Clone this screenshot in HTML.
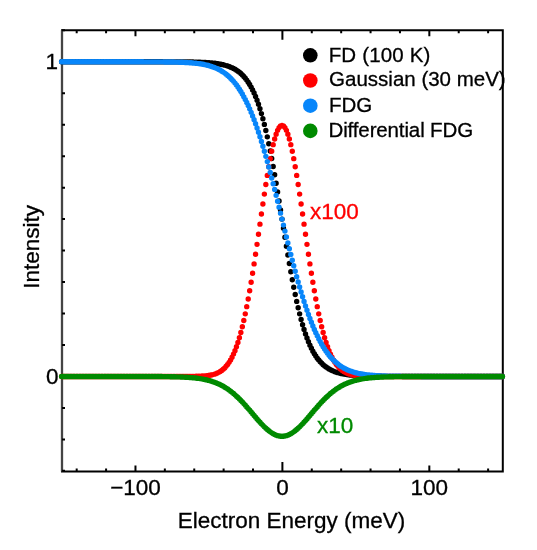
<!DOCTYPE html>
<html><head><meta charset="utf-8"><title>FD FDG plot</title>
<style>html,body{margin:0;padding:0;background:#fff;width:537px;height:550px;overflow:hidden}</style>
</head><body>
<svg width="537" height="550" viewBox="0 0 537 550" style="position:absolute;left:0;top:0">
<rect x="0" y="0" width="537" height="550" fill="#fff"/>
<path d="M61.00 30.30H503.80M61.00 471.50H503.80M502.80 30.30V471.50" stroke="#000" stroke-width="2" fill="none"/>
<path d="M62.00 30.30V471.50" stroke="#444" stroke-width="2.3" fill="none"/>
<path d="M76.69 471.50v-3M76.69 30.30v3M106.08 471.50v-3M106.08 30.30v3M135.47 471.50v-3M135.47 30.30v3M164.85 471.50v-3M164.85 30.30v3M194.24 471.50v-3M194.24 30.30v3M223.63 471.50v-3M223.63 30.30v3M253.01 471.50v-3M253.01 30.30v3M282.40 471.50v-3M282.40 30.30v3M311.79 471.50v-3M311.79 30.30v3M341.17 471.50v-3M341.17 30.30v3M370.56 471.50v-3M370.56 30.30v3M399.95 471.50v-3M399.95 30.30v3M429.33 471.50v-3M429.33 30.30v3M458.72 471.50v-3M458.72 30.30v3M488.11 471.50v-3M488.11 30.30v3M135.47 471.50v-6.1M135.47 30.30v5.9M282.40 471.50v-9.6M282.40 30.30v9.4M429.33 471.50v-6.1M429.33 30.30v5.9M62.00 470.84h3M62.00 439.38h3M62.00 407.91h3M62.00 376.45h3M62.00 344.99h3M62.00 313.52h3M62.00 282.06h3M62.00 250.59h3M62.00 219.12h3M62.00 187.66h3M62.00 156.20h3M62.00 124.73h3M62.00 93.26h3M62.00 61.80h3M62.00 30.33h3M62.00 376.45h9.5M62.00 61.80h9.5" stroke="#000" stroke-width="2" fill="none"/>
<path d="M61.60 61.80h0M63.07 61.80h0M64.54 61.80h0M66.01 61.80h0M67.48 61.80h0M68.95 61.80h0M70.42 61.80h0M71.89 61.80h0M73.35 61.80h0M74.82 61.80h0M76.29 61.80h0M77.76 61.80h0M79.23 61.80h0M80.70 61.80h0M82.17 61.80h0M83.64 61.80h0M85.11 61.80h0M86.58 61.80h0M88.05 61.80h0M89.52 61.80h0M90.99 61.80h0M92.46 61.80h0M93.93 61.80h0M95.39 61.80h0M96.86 61.80h0M98.33 61.80h0M99.80 61.80h0M101.27 61.80h0M102.74 61.80h0M104.21 61.80h0M105.68 61.80h0M107.15 61.80h0M108.62 61.80h0M110.09 61.80h0M111.56 61.80h0M113.03 61.80h0M114.50 61.80h0M115.97 61.80h0M117.43 61.80h0M118.90 61.80h0M120.37 61.80h0M121.84 61.80h0M123.31 61.80h0M124.78 61.80h0M126.25 61.80h0M127.72 61.80h0M129.19 61.80h0M130.66 61.80h0M132.13 61.80h0M133.60 61.80h0M135.07 61.80h0M136.54 61.80h0M138.01 61.80h0M139.47 61.80h0M140.94 61.80h0M142.41 61.81h0M143.88 61.81h0M145.35 61.81h0M146.82 61.81h0M148.29 61.81h0M149.76 61.81h0M151.23 61.81h0M152.70 61.81h0M154.17 61.81h0M155.64 61.81h0M157.11 61.82h0M158.58 61.82h0M160.05 61.82h0M161.51 61.82h0M162.98 61.83h0M164.45 61.83h0M165.92 61.83h0M167.39 61.84h0M168.86 61.84h0M170.33 61.85h0M171.80 61.85h0M173.27 61.86h0M174.74 61.87h0M176.21 61.87h0M177.68 61.88h0M179.15 61.89h0M180.62 61.90h0M182.09 61.92h0M183.55 61.93h0M185.02 61.95h0M186.49 61.97h0M187.96 61.99h0M189.43 62.01h0M190.90 62.04h0M192.37 62.06h0M193.84 62.10h0M195.31 62.13h0M196.78 62.18h0M198.25 62.22h0M199.72 62.27h0M201.19 62.33h0M202.66 62.40h0M204.13 62.47h0M205.59 62.55h0M207.06 62.64h0M208.53 62.75h0M210.00 62.86h0M211.47 62.99h0M212.94 63.14h0M214.41 63.30h0M215.88 63.49h0M217.35 63.70h0M218.82 63.93h0M220.29 64.19h0M221.76 64.48h0M223.23 64.80h0M224.70 65.17h0M226.17 65.58h0M227.63 66.04h0M229.10 66.55h0M230.57 67.13h0M232.04 67.77h0M233.51 68.49h0M234.98 69.29h0M236.45 70.19h0M237.92 71.19h0M239.39 72.31h0M240.86 73.55h0M242.33 74.94h0M243.80 76.48h0M245.27 78.19h0M246.74 80.09h0M248.21 82.20h0M249.67 84.53h0M251.14 87.10h0M252.61 89.93h0M254.08 93.05h0M255.55 96.47h0M257.02 100.22h0M258.49 104.30h0M259.96 108.75h0M261.43 113.58h0M262.90 118.80h0M264.37 124.42h0M265.84 130.44h0M267.31 136.87h0M268.78 143.70h0M270.25 150.93h0M271.71 158.52h0M273.18 166.47h0M274.65 174.72h0M276.12 183.25h0M277.59 192.01h0M279.06 200.95h0M280.53 210.01h0M282.00 219.12h0M283.47 228.24h0M284.94 237.30h0M286.41 246.24h0M287.88 255.00h0M289.35 263.53h0M290.82 271.78h0M292.29 279.73h0M293.75 287.32h0M295.22 294.55h0M296.69 301.38h0M298.16 307.81h0M299.63 313.83h0M301.10 319.45h0M302.57 324.67h0M304.04 329.50h0M305.51 333.95h0M306.98 338.03h0M308.45 341.78h0M309.92 345.20h0M311.39 348.32h0M312.86 351.15h0M314.33 353.72h0M315.79 356.05h0M317.26 358.16h0M318.73 360.06h0M320.20 361.77h0M321.67 363.31h0M323.14 364.70h0M324.61 365.94h0M326.08 367.06h0M327.55 368.06h0M329.02 368.96h0M330.49 369.76h0M331.96 370.48h0M333.43 371.12h0M334.90 371.70h0M336.37 372.21h0M337.83 372.67h0M339.30 373.08h0M340.77 373.45h0M342.24 373.77h0M343.71 374.06h0M345.18 374.32h0M346.65 374.55h0M348.12 374.76h0M349.59 374.95h0M351.06 375.11h0M352.53 375.26h0M354.00 375.39h0M355.47 375.50h0M356.94 375.61h0M358.41 375.70h0M359.87 375.78h0M361.34 375.85h0M362.81 375.92h0M364.28 375.98h0M365.75 376.03h0M367.22 376.07h0M368.69 376.12h0M370.16 376.15h0M371.63 376.19h0M373.10 376.21h0M374.57 376.24h0M376.04 376.26h0M377.51 376.28h0M378.98 376.30h0M380.45 376.32h0M381.91 376.33h0M383.38 376.35h0M384.85 376.36h0M386.32 376.37h0M387.79 376.38h0M389.26 376.38h0M390.73 376.39h0M392.20 376.40h0M393.67 376.40h0M395.14 376.41h0M396.61 376.41h0M398.08 376.42h0M399.55 376.42h0M401.02 376.42h0M402.49 376.43h0M403.95 376.43h0M405.42 376.43h0M406.89 376.43h0M408.36 376.44h0M409.83 376.44h0M411.30 376.44h0M412.77 376.44h0M414.24 376.44h0M415.71 376.44h0M417.18 376.44h0M418.65 376.44h0M420.12 376.44h0M421.59 376.44h0M423.06 376.45h0M424.53 376.45h0M425.99 376.45h0M427.46 376.45h0M428.93 376.45h0M430.40 376.45h0M431.87 376.45h0M433.34 376.45h0M434.81 376.45h0M436.28 376.45h0M437.75 376.45h0M439.22 376.45h0M440.69 376.45h0M442.16 376.45h0M443.63 376.45h0M445.10 376.45h0M446.57 376.45h0M448.03 376.45h0M449.50 376.45h0M450.97 376.45h0M452.44 376.45h0M453.91 376.45h0M455.38 376.45h0M456.85 376.45h0M458.32 376.45h0M459.79 376.45h0M461.26 376.45h0M462.73 376.45h0M464.20 376.45h0M465.67 376.45h0M467.14 376.45h0M468.61 376.45h0M470.07 376.45h0M471.54 376.45h0M473.01 376.45h0M474.48 376.45h0M475.95 376.45h0M477.42 376.45h0M478.89 376.45h0M480.36 376.45h0M481.83 376.45h0M483.30 376.45h0M484.77 376.45h0M486.24 376.45h0M487.71 376.45h0M489.18 376.45h0M490.65 376.45h0M492.11 376.45h0M493.58 376.45h0M495.05 376.45h0M496.52 376.45h0M497.99 376.45h0M499.46 376.45h0M500.93 376.45h0M502.40 376.45h0" stroke="#000" stroke-width="5.4" stroke-linecap="round" fill="none"/>
<path d="M61.60 376.45h0M63.07 376.45h0M64.54 376.45h0M66.01 376.45h0M67.48 376.45h0M68.95 376.45h0M70.42 376.45h0M71.89 376.45h0M73.35 376.45h0M74.82 376.45h0M76.29 376.45h0M77.76 376.45h0M79.23 376.45h0M80.70 376.45h0M82.17 376.45h0M83.64 376.45h0M85.11 376.45h0M86.58 376.45h0M88.05 376.45h0M89.52 376.45h0M90.99 376.45h0M92.46 376.45h0M93.93 376.45h0M95.39 376.45h0M96.86 376.45h0M98.33 376.45h0M99.80 376.45h0M101.27 376.45h0M102.74 376.45h0M104.21 376.45h0M105.68 376.45h0M107.15 376.45h0M108.62 376.45h0M110.09 376.45h0M111.56 376.45h0M113.03 376.45h0M114.50 376.45h0M115.97 376.45h0M117.43 376.45h0M118.90 376.45h0M120.37 376.45h0M121.84 376.45h0M123.31 376.45h0M124.78 376.45h0M126.25 376.45h0M127.72 376.45h0M129.19 376.45h0M130.66 376.45h0M132.13 376.45h0M133.60 376.45h0M135.07 376.45h0M136.54 376.45h0M138.01 376.45h0M139.47 376.45h0M140.94 376.45h0M142.41 376.45h0M143.88 376.45h0M145.35 376.45h0M146.82 376.45h0M148.29 376.45h0M149.76 376.45h0M151.23 376.45h0M152.70 376.45h0M154.17 376.45h0M155.64 376.45h0M157.11 376.45h0M158.58 376.45h0M160.05 376.45h0M161.51 376.45h0M162.98 376.45h0M164.45 376.45h0M165.92 376.45h0M167.39 376.45h0M168.86 376.45h0M170.33 376.45h0M171.80 376.45h0M173.27 376.45h0M174.74 376.45h0M176.21 376.45h0M177.68 376.45h0M179.15 376.45h0M180.62 376.44h0M182.09 376.44h0M183.55 376.44h0M185.02 376.43h0M186.49 376.43h0M187.96 376.42h0M189.43 376.41h0M190.90 376.40h0M192.37 376.39h0M193.84 376.37h0M195.31 376.34h0M196.78 376.31h0M198.25 376.27h0M199.72 376.21h0M201.19 376.15h0M202.66 376.06h0M204.13 375.96h0M205.59 375.83h0M207.06 375.67h0M208.53 375.48h0M210.00 375.24h0M211.47 374.95h0M212.94 374.60h0M214.41 374.17h0M215.88 373.66h0M217.35 373.05h0M218.82 372.33h0M220.29 371.47h0M221.76 370.46h0M223.23 369.28h0M224.70 367.90h0M226.17 366.31h0M227.63 364.47h0M229.10 362.36h0M230.57 359.95h0M232.04 357.21h0M233.51 354.12h0M234.98 350.65h0M236.45 346.78h0M237.92 342.47h0M239.39 337.71h0M240.86 332.48h0M242.33 326.76h0M243.80 320.55h0M245.27 313.84h0M246.74 306.64h0M248.21 298.95h0M249.67 290.80h0M251.14 282.21h0M252.61 273.22h0M254.08 263.88h0M255.55 254.23h0M257.02 244.35h0M258.49 234.29h0M259.96 224.16h0M261.43 214.02h0M262.90 203.97h0M264.37 194.12h0M265.84 184.56h0M267.31 175.39h0M268.78 166.72h0M270.25 158.65h0M271.71 151.26h0M273.18 144.66h0M274.65 138.93h0M276.12 134.13h0M277.59 130.33h0M279.06 127.58h0M280.53 125.92h0M282.00 125.36h0M283.47 125.92h0M284.94 127.58h0M286.41 130.33h0M287.88 134.13h0M289.35 138.93h0M290.82 144.66h0M292.29 151.26h0M293.75 158.65h0M295.22 166.72h0M296.69 175.39h0M298.16 184.56h0M299.63 194.12h0M301.10 203.97h0M302.57 214.02h0M304.04 224.16h0M305.51 234.29h0M306.98 244.35h0M308.45 254.23h0M309.92 263.88h0M311.39 273.22h0M312.86 282.21h0M314.33 290.80h0M315.79 298.95h0M317.26 306.64h0M318.73 313.84h0M320.20 320.55h0M321.67 326.76h0M323.14 332.48h0M324.61 337.71h0M326.08 342.47h0M327.55 346.78h0M329.02 350.65h0M330.49 354.12h0M331.96 357.21h0M333.43 359.95h0M334.90 362.36h0M336.37 364.47h0M337.83 366.31h0M339.30 367.90h0M340.77 369.28h0M342.24 370.46h0M343.71 371.47h0M345.18 372.33h0M346.65 373.05h0M348.12 373.66h0M349.59 374.17h0M351.06 374.60h0M352.53 374.95h0M354.00 375.24h0M355.47 375.48h0M356.94 375.67h0M358.41 375.83h0M359.87 375.96h0M361.34 376.06h0M362.81 376.15h0M364.28 376.21h0M365.75 376.27h0M367.22 376.31h0M368.69 376.34h0M370.16 376.37h0M371.63 376.39h0M373.10 376.40h0M374.57 376.41h0M376.04 376.42h0M377.51 376.43h0M378.98 376.43h0M380.45 376.44h0M381.91 376.44h0M383.38 376.44h0M384.85 376.45h0M386.32 376.45h0M387.79 376.45h0M389.26 376.45h0M390.73 376.45h0M392.20 376.45h0M393.67 376.45h0M395.14 376.45h0M396.61 376.45h0M398.08 376.45h0M399.55 376.45h0M401.02 376.45h0M402.49 376.45h0M403.95 376.45h0M405.42 376.45h0M406.89 376.45h0M408.36 376.45h0M409.83 376.45h0M411.30 376.45h0M412.77 376.45h0M414.24 376.45h0M415.71 376.45h0M417.18 376.45h0M418.65 376.45h0M420.12 376.45h0M421.59 376.45h0M423.06 376.45h0M424.53 376.45h0M425.99 376.45h0M427.46 376.45h0M428.93 376.45h0M430.40 376.45h0M431.87 376.45h0M433.34 376.45h0M434.81 376.45h0M436.28 376.45h0M437.75 376.45h0M439.22 376.45h0M440.69 376.45h0M442.16 376.45h0M443.63 376.45h0M445.10 376.45h0M446.57 376.45h0M448.03 376.45h0M449.50 376.45h0M450.97 376.45h0M452.44 376.45h0M453.91 376.45h0M455.38 376.45h0M456.85 376.45h0M458.32 376.45h0M459.79 376.45h0M461.26 376.45h0M462.73 376.45h0M464.20 376.45h0M465.67 376.45h0M467.14 376.45h0M468.61 376.45h0M470.07 376.45h0M471.54 376.45h0M473.01 376.45h0M474.48 376.45h0M475.95 376.45h0M477.42 376.45h0M478.89 376.45h0M480.36 376.45h0M481.83 376.45h0M483.30 376.45h0M484.77 376.45h0M486.24 376.45h0M487.71 376.45h0M489.18 376.45h0M490.65 376.45h0M492.11 376.45h0M493.58 376.45h0M495.05 376.45h0M496.52 376.45h0M497.99 376.45h0M499.46 376.45h0M500.93 376.45h0M502.40 376.45h0" stroke="#ff0000" stroke-width="5.4" stroke-linecap="round" fill="none"/>
<path d="M61.60 61.80h0M63.07 61.80h0M64.54 61.80h0M66.01 61.80h0M67.48 61.80h0M68.95 61.80h0M70.42 61.80h0M71.89 61.80h0M73.35 61.80h0M74.82 61.80h0M76.29 61.80h0M77.76 61.80h0M79.23 61.80h0M80.70 61.80h0M82.17 61.80h0M83.64 61.80h0M85.11 61.80h0M86.58 61.80h0M88.05 61.80h0M89.52 61.80h0M90.99 61.80h0M92.46 61.80h0M93.93 61.80h0M95.39 61.80h0M96.86 61.80h0M98.33 61.80h0M99.80 61.80h0M101.27 61.80h0M102.74 61.80h0M104.21 61.80h0M105.68 61.80h0M107.15 61.80h0M108.62 61.80h0M110.09 61.80h0M111.56 61.80h0M113.03 61.80h0M114.50 61.80h0M115.97 61.80h0M117.43 61.80h0M118.90 61.80h0M120.37 61.80h0M121.84 61.80h0M123.31 61.81h0M124.78 61.81h0M126.25 61.81h0M127.72 61.81h0M129.19 61.81h0M130.66 61.81h0M132.13 61.81h0M133.60 61.81h0M135.07 61.81h0M136.54 61.81h0M138.01 61.82h0M139.47 61.82h0M140.94 61.82h0M142.41 61.82h0M143.88 61.83h0M145.35 61.83h0M146.82 61.83h0M148.29 61.84h0M149.76 61.84h0M151.23 61.85h0M152.70 61.85h0M154.17 61.86h0M155.64 61.87h0M157.11 61.87h0M158.58 61.88h0M160.05 61.89h0M161.51 61.90h0M162.98 61.92h0M164.45 61.93h0M165.92 61.95h0M167.39 61.97h0M168.86 61.99h0M170.33 62.01h0M171.80 62.03h0M173.27 62.06h0M174.74 62.09h0M176.21 62.13h0M177.68 62.17h0M179.15 62.22h0M180.62 62.27h0M182.09 62.32h0M183.55 62.38h0M185.02 62.45h0M186.49 62.53h0M187.96 62.62h0M189.43 62.71h0M190.90 62.82h0M192.37 62.94h0M193.84 63.08h0M195.31 63.23h0M196.78 63.39h0M198.25 63.58h0M199.72 63.78h0M201.19 64.01h0M202.66 64.26h0M204.13 64.54h0M205.59 64.85h0M207.06 65.19h0M208.53 65.56h0M210.00 65.98h0M211.47 66.43h0M212.94 66.93h0M214.41 67.48h0M215.88 68.09h0M217.35 68.75h0M218.82 69.48h0M220.29 70.27h0M221.76 71.14h0M223.23 72.08h0M224.70 73.11h0M226.17 74.23h0M227.63 75.44h0M229.10 76.75h0M230.57 78.17h0M232.04 79.70h0M233.51 81.34h0M234.98 83.12h0M236.45 85.02h0M237.92 87.06h0M239.39 89.24h0M240.86 91.57h0M242.33 94.04h0M243.80 96.68h0M245.27 99.48h0M246.74 102.44h0M248.21 105.57h0M249.67 108.86h0M251.14 112.34h0M252.61 115.98h0M254.08 119.80h0M255.55 123.79h0M257.02 127.95h0M258.49 132.28h0M259.96 136.78h0M261.43 141.44h0M262.90 146.26h0M264.37 151.23h0M265.84 156.34h0M267.31 161.58h0M268.78 166.95h0M270.25 172.44h0M271.71 178.04h0M273.18 183.73h0M274.65 189.50h0M276.12 195.34h0M277.59 201.24h0M279.06 207.17h0M280.53 213.14h0M282.00 219.12h0M283.47 225.11h0M284.94 231.08h0M286.41 237.01h0M287.88 242.91h0M289.35 248.75h0M290.82 254.52h0M292.29 260.21h0M293.75 265.81h0M295.22 271.30h0M296.69 276.67h0M298.16 281.91h0M299.63 287.02h0M301.10 291.99h0M302.57 296.81h0M304.04 301.47h0M305.51 305.97h0M306.98 310.30h0M308.45 314.46h0M309.92 318.45h0M311.39 322.27h0M312.86 325.91h0M314.33 329.39h0M315.79 332.68h0M317.26 335.81h0M318.73 338.77h0M320.20 341.57h0M321.67 344.21h0M323.14 346.68h0M324.61 349.01h0M326.08 351.19h0M327.55 353.23h0M329.02 355.13h0M330.49 356.91h0M331.96 358.55h0M333.43 360.08h0M334.90 361.50h0M336.37 362.81h0M337.83 364.02h0M339.30 365.14h0M340.77 366.17h0M342.24 367.11h0M343.71 367.98h0M345.18 368.77h0M346.65 369.50h0M348.12 370.16h0M349.59 370.77h0M351.06 371.32h0M352.53 371.82h0M354.00 372.27h0M355.47 372.69h0M356.94 373.06h0M358.41 373.40h0M359.87 373.71h0M361.34 373.99h0M362.81 374.24h0M364.28 374.47h0M365.75 374.67h0M367.22 374.86h0M368.69 375.02h0M370.16 375.17h0M371.63 375.31h0M373.10 375.43h0M374.57 375.54h0M376.04 375.63h0M377.51 375.72h0M378.98 375.80h0M380.45 375.87h0M381.91 375.93h0M383.38 375.98h0M384.85 376.03h0M386.32 376.08h0M387.79 376.12h0M389.26 376.16h0M390.73 376.19h0M392.20 376.22h0M393.67 376.24h0M395.14 376.26h0M396.61 376.28h0M398.08 376.30h0M399.55 376.32h0M401.02 376.33h0M402.49 376.35h0M403.95 376.36h0M405.42 376.37h0M406.89 376.38h0M408.36 376.38h0M409.83 376.39h0M411.30 376.40h0M412.77 376.40h0M414.24 376.41h0M415.71 376.41h0M417.18 376.42h0M418.65 376.42h0M420.12 376.42h0M421.59 376.43h0M423.06 376.43h0M424.53 376.43h0M425.99 376.43h0M427.46 376.44h0M428.93 376.44h0M430.40 376.44h0M431.87 376.44h0M433.34 376.44h0M434.81 376.44h0M436.28 376.44h0M437.75 376.44h0M439.22 376.44h0M440.69 376.44h0M442.16 376.45h0M443.63 376.45h0M445.10 376.45h0M446.57 376.45h0M448.03 376.45h0M449.50 376.45h0M450.97 376.45h0M452.44 376.45h0M453.91 376.45h0M455.38 376.45h0M456.85 376.45h0M458.32 376.45h0M459.79 376.45h0M461.26 376.45h0M462.73 376.45h0M464.20 376.45h0M465.67 376.45h0M467.14 376.45h0M468.61 376.45h0M470.07 376.45h0M471.54 376.45h0M473.01 376.45h0M474.48 376.45h0M475.95 376.45h0M477.42 376.45h0M478.89 376.45h0M480.36 376.45h0M481.83 376.45h0M483.30 376.45h0M484.77 376.45h0M486.24 376.45h0M487.71 376.45h0M489.18 376.45h0M490.65 376.45h0M492.11 376.45h0M493.58 376.45h0M495.05 376.45h0M496.52 376.45h0M497.99 376.45h0M499.46 376.45h0M500.93 376.45h0M502.40 376.45h0" stroke="#0886fa" stroke-width="5.4" stroke-linecap="round" fill="none"/>
<path d="M61.60 376.45h0M63.07 376.45h0M64.54 376.45h0M66.01 376.45h0M67.48 376.45h0M68.95 376.45h0M70.42 376.45h0M71.89 376.45h0M73.35 376.45h0M74.82 376.45h0M76.29 376.45h0M77.76 376.45h0M79.23 376.45h0M80.70 376.45h0M82.17 376.45h0M83.64 376.45h0M85.11 376.45h0M86.58 376.45h0M88.05 376.45h0M89.52 376.45h0M90.99 376.45h0M92.46 376.45h0M93.93 376.45h0M95.39 376.45h0M96.86 376.45h0M98.33 376.45h0M99.80 376.45h0M101.27 376.45h0M102.74 376.45h0M104.21 376.45h0M105.68 376.45h0M107.15 376.45h0M108.62 376.45h0M110.09 376.45h0M111.56 376.45h0M113.03 376.45h0M114.50 376.45h0M115.97 376.45h0M117.43 376.45h0M118.90 376.45h0M120.37 376.45h0M121.84 376.46h0M123.31 376.46h0M124.78 376.46h0M126.25 376.46h0M127.72 376.46h0M129.19 376.46h0M130.66 376.46h0M132.13 376.46h0M133.60 376.46h0M135.07 376.47h0M136.54 376.47h0M138.01 376.47h0M139.47 376.47h0M140.94 376.47h0M142.41 376.48h0M143.88 376.48h0M145.35 376.48h0M146.82 376.49h0M148.29 376.49h0M149.76 376.50h0M151.23 376.50h0M152.70 376.51h0M154.17 376.52h0M155.64 376.53h0M157.11 376.54h0M158.58 376.55h0M160.05 376.56h0M161.51 376.57h0M162.98 376.59h0M164.45 376.60h0M165.92 376.62h0M167.39 376.64h0M168.86 376.66h0M170.33 376.69h0M171.80 376.72h0M173.27 376.75h0M174.74 376.79h0M176.21 376.83h0M177.68 376.87h0M179.15 376.92h0M180.62 376.98h0M182.09 377.04h0M183.55 377.11h0M185.02 377.19h0M186.49 377.27h0M187.96 377.37h0M189.43 377.47h0M190.90 377.59h0M192.37 377.72h0M193.84 377.87h0M195.31 378.02h0M196.78 378.20h0M198.25 378.39h0M199.72 378.61h0M201.19 378.84h0M202.66 379.10h0M204.13 379.38h0M205.59 379.69h0M207.06 380.03h0M208.53 380.40h0M210.00 380.80h0M211.47 381.24h0M212.94 381.72h0M214.41 382.23h0M215.88 382.79h0M217.35 383.40h0M218.82 384.05h0M220.29 384.75h0M221.76 385.50h0M223.23 386.31h0M224.70 387.17h0M226.17 388.08h0M227.63 389.06h0M229.10 390.09h0M230.57 391.19h0M232.04 392.34h0M233.51 393.55h0M234.98 394.83h0M236.45 396.16h0M237.92 397.54h0M239.39 398.99h0M240.86 400.48h0M242.33 402.02h0M243.80 403.61h0M245.27 405.24h0M246.74 406.90h0M248.21 408.59h0M249.67 410.30h0M251.14 412.03h0M252.61 413.76h0M254.08 415.49h0M255.55 417.22h0M257.02 418.92h0M258.49 420.60h0M259.96 422.24h0M261.43 423.83h0M262.90 425.37h0M264.37 426.84h0M265.84 428.23h0M267.31 429.54h0M268.78 430.76h0M270.25 431.87h0M271.71 432.87h0M273.18 433.75h0M274.65 434.51h0M276.12 435.14h0M277.59 435.63h0M279.06 435.99h0M280.53 436.20h0M282.00 436.27h0M283.47 436.20h0M284.94 435.99h0M286.41 435.63h0M287.88 435.14h0M289.35 434.51h0M290.82 433.75h0M292.29 432.87h0M293.75 431.87h0M295.22 430.76h0M296.69 429.54h0M298.16 428.23h0M299.63 426.84h0M301.10 425.37h0M302.57 423.83h0M304.04 422.24h0M305.51 420.60h0M306.98 418.92h0M308.45 417.22h0M309.92 415.49h0M311.39 413.76h0M312.86 412.03h0M314.33 410.30h0M315.79 408.59h0M317.26 406.90h0M318.73 405.24h0M320.20 403.61h0M321.67 402.02h0M323.14 400.48h0M324.61 398.99h0M326.08 397.54h0M327.55 396.16h0M329.02 394.83h0M330.49 393.55h0M331.96 392.34h0M333.43 391.19h0M334.90 390.09h0M336.37 389.06h0M337.83 388.08h0M339.30 387.17h0M340.77 386.31h0M342.24 385.50h0M343.71 384.75h0M345.18 384.05h0M346.65 383.40h0M348.12 382.79h0M349.59 382.23h0M351.06 381.72h0M352.53 381.24h0M354.00 380.80h0M355.47 380.40h0M356.94 380.03h0M358.41 379.69h0M359.87 379.38h0M361.34 379.10h0M362.81 378.84h0M364.28 378.61h0M365.75 378.39h0M367.22 378.20h0M368.69 378.02h0M370.16 377.87h0M371.63 377.72h0M373.10 377.59h0M374.57 377.47h0M376.04 377.37h0M377.51 377.27h0M378.98 377.19h0M380.45 377.11h0M381.91 377.04h0M383.38 376.98h0M384.85 376.92h0M386.32 376.87h0M387.79 376.83h0M389.26 376.79h0M390.73 376.75h0M392.20 376.72h0M393.67 376.69h0M395.14 376.66h0M396.61 376.64h0M398.08 376.62h0M399.55 376.60h0M401.02 376.59h0M402.49 376.57h0M403.95 376.56h0M405.42 376.55h0M406.89 376.54h0M408.36 376.53h0M409.83 376.52h0M411.30 376.51h0M412.77 376.50h0M414.24 376.50h0M415.71 376.49h0M417.18 376.49h0M418.65 376.48h0M420.12 376.48h0M421.59 376.48h0M423.06 376.47h0M424.53 376.47h0M425.99 376.47h0M427.46 376.47h0M428.93 376.47h0M430.40 376.46h0M431.87 376.46h0M433.34 376.46h0M434.81 376.46h0M436.28 376.46h0M437.75 376.46h0M439.22 376.46h0M440.69 376.46h0M442.16 376.46h0M443.63 376.45h0M445.10 376.45h0M446.57 376.45h0M448.03 376.45h0M449.50 376.45h0M450.97 376.45h0M452.44 376.45h0M453.91 376.45h0M455.38 376.45h0M456.85 376.45h0M458.32 376.45h0M459.79 376.45h0M461.26 376.45h0M462.73 376.45h0M464.20 376.45h0M465.67 376.45h0M467.14 376.45h0M468.61 376.45h0M470.07 376.45h0M471.54 376.45h0M473.01 376.45h0M474.48 376.45h0M475.95 376.45h0M477.42 376.45h0M478.89 376.45h0M480.36 376.45h0M481.83 376.45h0M483.30 376.45h0M484.77 376.45h0M486.24 376.45h0M487.71 376.45h0M489.18 376.45h0M490.65 376.45h0M492.11 376.45h0M493.58 376.45h0M495.05 376.45h0M496.52 376.45h0M497.99 376.45h0M499.46 376.45h0M500.93 376.45h0M502.40 376.45h0" stroke="#008a00" stroke-width="5.4" stroke-linecap="round" fill="none"/>
<g style="font-family:'Liberation Sans',Arial,sans-serif;stroke:currentColor;stroke-width:0.3px" fill="currentColor" color="#000">
<text x="135.47" y="494.5" font-size="22.5" text-anchor="middle">&#8722;100</text>
<text x="282.40" y="494.5" font-size="22.5" text-anchor="middle">0</text>
<text x="429.33" y="494.5" font-size="22.5" text-anchor="middle">100</text>
<text x="58" y="69.30" font-size="22.5" text-anchor="end">1</text>
<text x="58.4" y="383.95" font-size="22.5" text-anchor="end">0</text>
<text x="291.5" y="528" font-size="22.5" text-anchor="middle">Electron Energy (meV)</text>
<text transform="translate(39.4 246.9) rotate(-90)" font-size="22.5" text-anchor="middle">Intensity</text>
<text x="310" y="219.3" font-size="22.5" color="#ff0000">x100</text>
<text x="317" y="433.3" font-size="22.5" color="#008a00">x10</text>
</g>
<g style="font-family:'Liberation Sans',Arial,sans-serif" font-size="20.5">
<g stroke="none">
<circle cx="310.3" cy="55.3" r="7.3" fill="#000"/>
<circle cx="310.3" cy="80.5" r="7.3" fill="#ff0000"/>
<circle cx="310.3" cy="105.7" r="7.3" fill="#0886fa"/>
<circle cx="310.3" cy="130.9" r="7.3" fill="#008a00"/>
</g>
<g stroke="#000" stroke-width="0.3">
<text x="328.7" y="61.7" letter-spacing="0.15">FD (100 K)</text>
<text x="329.1" y="86.3">Gaussian (30 meV)</text>
<text x="328.9" y="111.7">FDG</text>
<text x="328.5" y="137.1" letter-spacing="-0.13">Differential FDG</text>
</g>
</g>
</svg>
</body></html>
